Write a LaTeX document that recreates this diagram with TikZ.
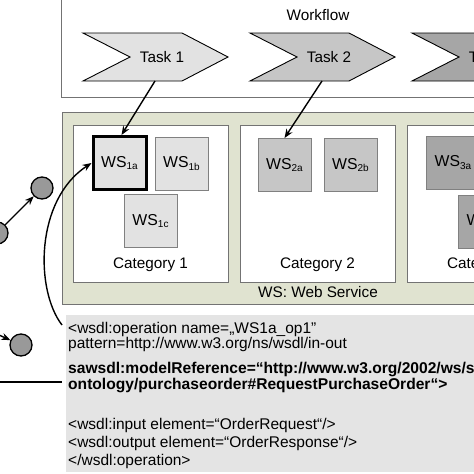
\documentclass[tikz,border=0pt]{standalone}
\usepackage{fontspec}
\setmainfont{Liberation Sans}
\usetikzlibrary{arrows.meta}
\definecolor{olivebg}{RGB}{224,227,208}
\definecolor{wsA}{RGB}{226,226,226}
\definecolor{wsB}{RGB}{198,198,198}
\definecolor{wsC}{RGB}{166,166,166}
\definecolor{codebg}{RGB}{228,228,228}
\newcommand{\wsname}[1]{WS\raisebox{-0.35ex}{\fontsize{10}{10}\selectfont #1}}
\tikzset{
  frame/.style={draw=black!55,line width=0.9pt},
  catbox/.style={draw=black!55,fill=white,line width=0.9pt,minimum width=155pt,minimum height=157pt,inner sep=0pt},
  wsbox/.style={draw=black!50,line width=0.9pt,minimum width=53pt,minimum height=53pt,inner sep=0pt,font=\fontsize{15.8}{15.8}\selectfont},
  link/.style={black,line width=1.4pt,-{Stealth[length=9pt,width=7pt]}},
  proc/.style={circle,draw=black,line width=1.3pt,fill=black!40,minimum size=22pt,inner sep=0pt},
  lbl/.style={font=\fontsize{15.3}{15.3}\selectfont,inner sep=0pt},
  code/.style={font=\fontsize{15.5}{15.5}\selectfont,inner sep=0pt,anchor=base west},
}
\begin{document}
\begin{tikzpicture}[x=1pt,y=-1pt]
\useasboundingbox (0,0) rectangle (474,474);
\clip (0,0) rectangle (474,474);
% --- workflow ---
\draw[frame] (480,97) -- (61,97) -- (61,-5);
\node[lbl] (wf) at (318,15) {Workflow};
\foreach \x/\c/\n in {83/wsA/1,250/wsB/2,412/wsC/3}{
  \draw[black,line width=0.9pt,fill=\c] (\x,33) -- ++(99,0) -- ++(46,24) -- ++(-46,24) -- ++(-99,0) -- ++(47,-24) -- cycle;
  \node[lbl] (task\n) at (\x+79,57) {Task \n};
}
% --- web services ---
\draw[frame,fill=olivebg] (62,112) rectangle (480,304);
\node[catbox] (cat1) at (150.5,203.5) {};
\node[catbox] (cat2) at (317.5,203.5) {};
\node[catbox] (cat3) at (484.5,203.5) {};
\node[lbl] (cat1txt) at (150.5,265) {Category 1};
\node[lbl] (cat2txt) at (317.5,265) {Category 2};
\node[lbl] (cat3txt) at (484.5,265) {Category 3};
\node[lbl] (wsnote) at (318,292) {WS: Web Service};
\node[wsbox,fill=wsA,draw=black,line width=3pt] (ws1a) at (119.5,163) {\wsname{1a}};
\node[wsbox,fill=wsA] (ws1b) at (181.5,163.5) {\wsname{1b}};
\node[wsbox,fill=wsA] (ws1c) at (150.5,221) {\wsname{1c}};
\node[wsbox,fill=wsB] (ws2a) at (284.5,165) {\wsname{2a}};
\node[wsbox,fill=wsB] (ws2b) at (350.5,165) {\wsname{2b}};
\node[wsbox,fill=wsC] (ws3a) at (453,162.5) {\wsname{3a}};
\node[wsbox,fill=wsC] (ws3b) at (485,221.5) {\wsname{3b}};
\coordinate (t1out) at (155,81);
\coordinate (t2out) at (322,81);
\draw[link] (t1out) -- ([xshift=2pt]ws1a.north);
\draw[link] (t2out) -- (ws2a.north);
% --- processes ---
\node[proc] (p0) at (-3,233) {};
\node[proc] (p1) at (42,188) {};
\node[proc] (p2) at (21,345) {};
\coordinate (p2in) at (-12,330);
\draw[link] (p0) -- (p1);
\draw[link] (p2in) -- (p2);
% --- wsdl ---
\node[fill=codebg,inner sep=0pt,minimum width=414pt,minimum height=157pt,anchor=north west] (wsdl) at (66,315) {};
\node[code] (l1) at (68,333) {<wsdl:operation name=„WS1a\_op1"};
\node[code] (l2) at (68,348) {pattern=http://www.w3.org/ns/wsdl/in-out};
\node[code] (l3) at (68,373) {\fontsize{15.6}{15.6}\selectfont\bfseries sawsdl:modelReference=“http://www.w3.org/2002/ws/s};
\node[code] (l4) at (68,389) {\fontsize{15.6}{15.6}\selectfont\bfseries ontology/purchaseorder\#RequestPurchaseOrder“>};
\node[code] (l5) at (68,429) {<wsdl:input element=“OrderRequest“/>};
\node[code] (l6) at (68,447) {<wsdl:output element=“OrderResponse“/>};
\node[code] (l7) at (68,465) {</wsdl:operation>};
\coordinate (cstart) at (62,325);
\draw[link] (cstart) .. controls (35,290) and (35,200) .. (ws1a.west);
\coordinate (hl) at (-5,382);
\coordinate (hlend) at (62,382);
\draw[black,line width=1.2pt] (hl) -- (hlend);
\end{tikzpicture}
\end{document}
